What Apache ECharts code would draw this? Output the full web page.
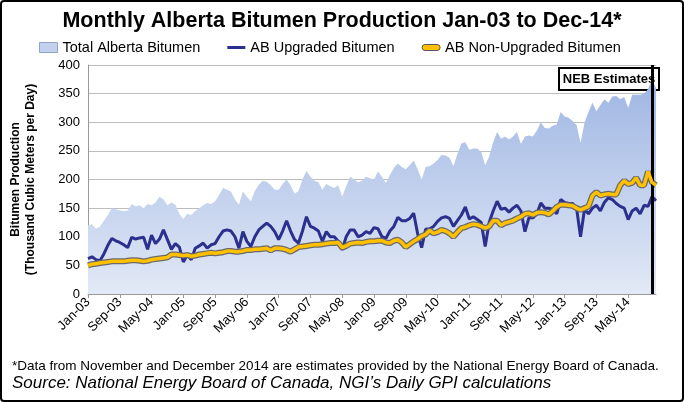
<!DOCTYPE html>
<html>
<head>
<meta charset="utf-8">
<script src="https://cdn.jsdelivr.net/npm/echarts@6/dist/echarts.min.js"></script>
<style>
  html, body { margin: 0; padding: 0; background: #fff; }
  #container { width: 684px; height: 402px; }
</style>
</head>
<body>
<div id="container"></div>
<script>
var dom = document.getElementById("container");
var myChart = echarts.init(dom);

// month labels Jan-03 .. Dec-14
var monthNames = ['Jan', 'Feb', 'Mar', 'Apr', 'May', 'Jun', 'Jul', 'Aug', 'Sep', 'Oct', 'Nov', 'Dec'];
var years = ['03', '04', '05', '06', '07', '08', '09', '10', '11', '12', '13', '14'];
var categories = [];
years.forEach(function (y) {
    monthNames.forEach(function (m) {
        categories.push(m + '-' + y);
    });
});

// thousand cubic meters per day
var totalBitumen = [
    120, 122, 114, 118, 128, 138, 150, 148, 146, 145, 146, 157,
    153, 155, 150, 157, 155, 160, 170, 165, 155, 160, 156, 140,
    131, 140, 138, 145, 150, 155, 159, 157, 162, 173, 185, 182,
    179, 165, 156, 179, 170, 162, 180, 191, 198, 196, 190, 182,
    182, 192, 200, 190, 175, 180, 200, 215, 205, 198, 195, 182,
    192, 188, 185, 190, 170, 188, 205, 200, 195, 198, 205, 202,
    200, 214, 205, 194, 208, 220, 228, 222, 218, 225, 233, 218,
    200, 222, 223, 228, 234, 243, 242, 238, 223, 245, 263, 265,
    252, 254, 254, 248, 225, 240, 265, 283, 271, 275, 270, 275,
    283, 262, 275, 277, 275, 285, 300, 290, 289, 294, 296, 318,
    310, 308, 302, 295, 264, 299, 318, 334, 319, 330, 340, 334,
    345, 346, 340, 344, 325, 348, 348, 348, 350, 358, 375, 360
];

var upgraded = [
    62, 65, 60, 58, 70, 85, 97, 93, 90, 86, 81, 99,
    96, 98, 99, 78, 103, 88, 96, 112, 95, 78, 88, 82,
    56, 68, 60, 80, 84, 89, 80, 86, 88, 100, 110, 112,
    110, 100, 80, 109, 92, 83, 100, 112, 118, 124, 118, 109,
    95, 110, 128, 110, 95, 89, 110, 135, 118, 115, 110, 92,
    109, 100, 100, 92, 77, 100, 112, 112, 100, 103, 109, 106,
    116, 114, 100, 97, 110, 118, 134, 128, 128, 132, 141, 105,
    81, 113, 114, 118, 127, 133, 135, 132, 118, 128, 138, 152,
    131, 135, 130, 125, 83, 125, 145, 162, 148, 150, 143, 150,
    155, 145, 109, 133, 133, 140, 159, 150, 150, 148, 140, 165,
    160, 158, 158, 150, 100, 148, 140, 150, 155, 145, 160, 168,
    165, 158, 153, 150, 130, 145, 150, 140, 155, 153, 170, 163
];

var nonUpgraded = [
    50, 52, 53, 54, 55, 56, 57, 57, 57, 57, 58, 59,
    59, 58, 57, 58, 60, 61, 62, 63, 64, 69, 69, 68,
    67, 68, 66, 67, 69, 70, 71, 72, 71, 72, 73, 75,
    75, 74, 74, 75, 77, 77, 78, 78, 79, 80, 76, 80,
    80, 79, 77, 74, 78, 82, 83, 84, 85, 86, 86, 87,
    88, 89, 89, 90, 81, 84, 88, 89, 90, 89, 91, 92,
    92, 93, 93, 90, 89, 93, 95, 90, 82, 87, 92, 96,
    101, 104, 111, 106, 108, 112, 110, 106, 100, 108, 115, 117,
    120, 122, 121, 118, 115, 118, 128, 128, 120, 124, 126, 128,
    132, 135, 140, 141, 138, 142, 143, 142, 139, 145, 152, 156,
    156, 155, 154, 150, 147, 150, 153, 172, 178, 172, 174, 175,
    174, 174, 190, 198, 192, 194, 203, 190, 190, 214, 195, 190
];

var yTicks = [0, 50, 100, 150, 200, 250, 300, 350, 400];
var estimateStart = 'Nov-14';

var font = 'Liberation Sans, Arial, sans-serif';

var option = {
    animation: false,
    textStyle: { fontFamily: font },
    title: {
        text: 'Monthly Alberta Bitumen Production Jan-03 to Dec-14*',
        left: 'center',
        top: 5,
        textStyle: { fontSize: 21.5, fontWeight: 'bold', color: '#000', fontFamily: font }
    },
    legend: {
        top: 35,
        left: 34,
        itemWidth: 18,
        itemHeight: 10,
        itemGap: 27,
        textStyle: { fontSize: 14.5, color: '#000', fontFamily: font },
        data: [
            { name: 'Total Alberta Bitumen', icon: 'rect',
              itemStyle: { color: '#c3d1ee', borderColor: '#8fa3cc', borderWidth: 1 } },
            { name: 'AB Upgraded Bitumen', icon: 'path://M0,0L18,0L18,3L0,3Z',
              itemStyle: { color: '#2b2f8e' } },
            { name: 'AB Non-Upgraded Bitumen',
              icon: 'path://M3,0L15,0A3,3,0,0,1,15,6L3,6A3,3,0,0,1,3,0Z',
              itemStyle: { color: '#ffc000', borderColor: '#555', borderWidth: 1 } }
        ]
    },
    grid: { left: 85, right: 28, top: 65, bottom: 108 },
    xAxis: {
        type: 'category',
        data: categories,
        boundaryGap: false,
        axisLine: { lineStyle: { color: '#999', width: 1 } },
        axisTick: { show: true, interval: 7, length: 4, lineStyle: { color: '#999' } },
        axisLabel: {
            interval: 7,
            rotate: 45,
            fontSize: 13,
            color: '#000',
            margin: 6,
            fontFamily: font
        },
        splitLine: { show: false }
    },
    yAxis: {
        type: 'value',
        min: yTicks[0],
        max: yTicks[yTicks.length - 1],
        interval: 50,
        name: 'Bitumen Production\n(Thousand Cubic Meters per Day)',
        nameLocation: 'middle',
        nameGap: 50,
        nameTextStyle: { fontSize: 12, fontWeight: 'bold', color: '#000', lineHeight: 15, fontFamily: font },
        axisLine: { show: true, lineStyle: { color: '#999', width: 1 } },
        axisTick: { show: false },
        axisLabel: { fontSize: 13, color: '#000', margin: 8, fontFamily: font },
        splitLine: { lineStyle: { color: '#bdbdbd', width: 1 } }
    },
    graphic: [
        {
            type: 'rect',
            shape: { x: 1, y: 1, width: 682, height: 400, r: 3 },
            style: { fill: 'none', stroke: '#000', lineWidth: 2 },
            silent: true
        },
        {
            type: 'group',
            left: 558,
            top: 67,
            z: 100,
            children: [
                {
                    type: 'rect',
                    shape: { x: 0, y: 0, width: 100, height: 22 },
                    style: { fill: '#fff', stroke: '#000', lineWidth: 2 }
                },
                {
                    type: 'text',
                    x: 50,
                    y: 11,
                    style: {
                        text: 'NEB Estimates',
                        font: 'bold 13px ' + font,
                        fill: '#000',
                        align: 'center',
                        verticalAlign: 'middle'
                    }
                }
            ]
        },
        {
            type: 'text',
            left: 12,
            top: 359,
            style: {
                text: '*Data from November and December 2014 are estimates provided by the National Energy Board of Canada.',
                font: '13.5px ' + font,
                fill: '#000'
            }
        },
        {
            type: 'text',
            left: 12,
            top: 375,
            style: {
                text: 'Source: National Energy Board of Canada, NGI\u2019s Daily GPI calculations',
                font: 'italic 17px ' + font,
                fill: '#000'
            }
        }
    ],
    series: [
        {
            name: 'Total Alberta Bitumen',
            type: 'line',
            data: totalBitumen,
            symbol: 'none',
            lineStyle: { width: 0 },
            itemStyle: { color: '#c3d1ee' },
            areaStyle: {
                opacity: 1,
                color: new echarts.graphic.LinearGradient(0, 0, 0, 1, [
                    { offset: 0, color: '#9fb6e3' },
                    { offset: 1, color: '#e2e9f6' }
                ])
            },
            z: 1
        },
        {
            name: 'AB Upgraded Bitumen',
            type: 'line',
            data: upgraded,
            symbol: 'none',
            lineStyle: { width: 3, color: '#2b2f8e' },
            itemStyle: { color: '#2b2f8e' },
            z: 3,
            markLine: {
                silent: true,
                symbol: 'none',
                label: { show: false },
                lineStyle: { color: '#000', width: 3, type: 'solid' },
                data: [{ xAxis: estimateStart }]
            }
        },
        {
            name: 'outline',
            type: 'line',
            data: nonUpgraded,
            symbol: 'none',
            lineStyle: { width: 6, color: '#6a6a6a' },
            z: 4
        },
        {
            name: 'AB Non-Upgraded Bitumen',
            type: 'line',
            data: nonUpgraded,
            symbol: 'none',
            lineStyle: { width: 3.5, color: '#ffc000' },
            itemStyle: { color: '#ffc000' },
            z: 5
        }
    ]
};

myChart.setOption(option);
</script>
</body>
</html>
